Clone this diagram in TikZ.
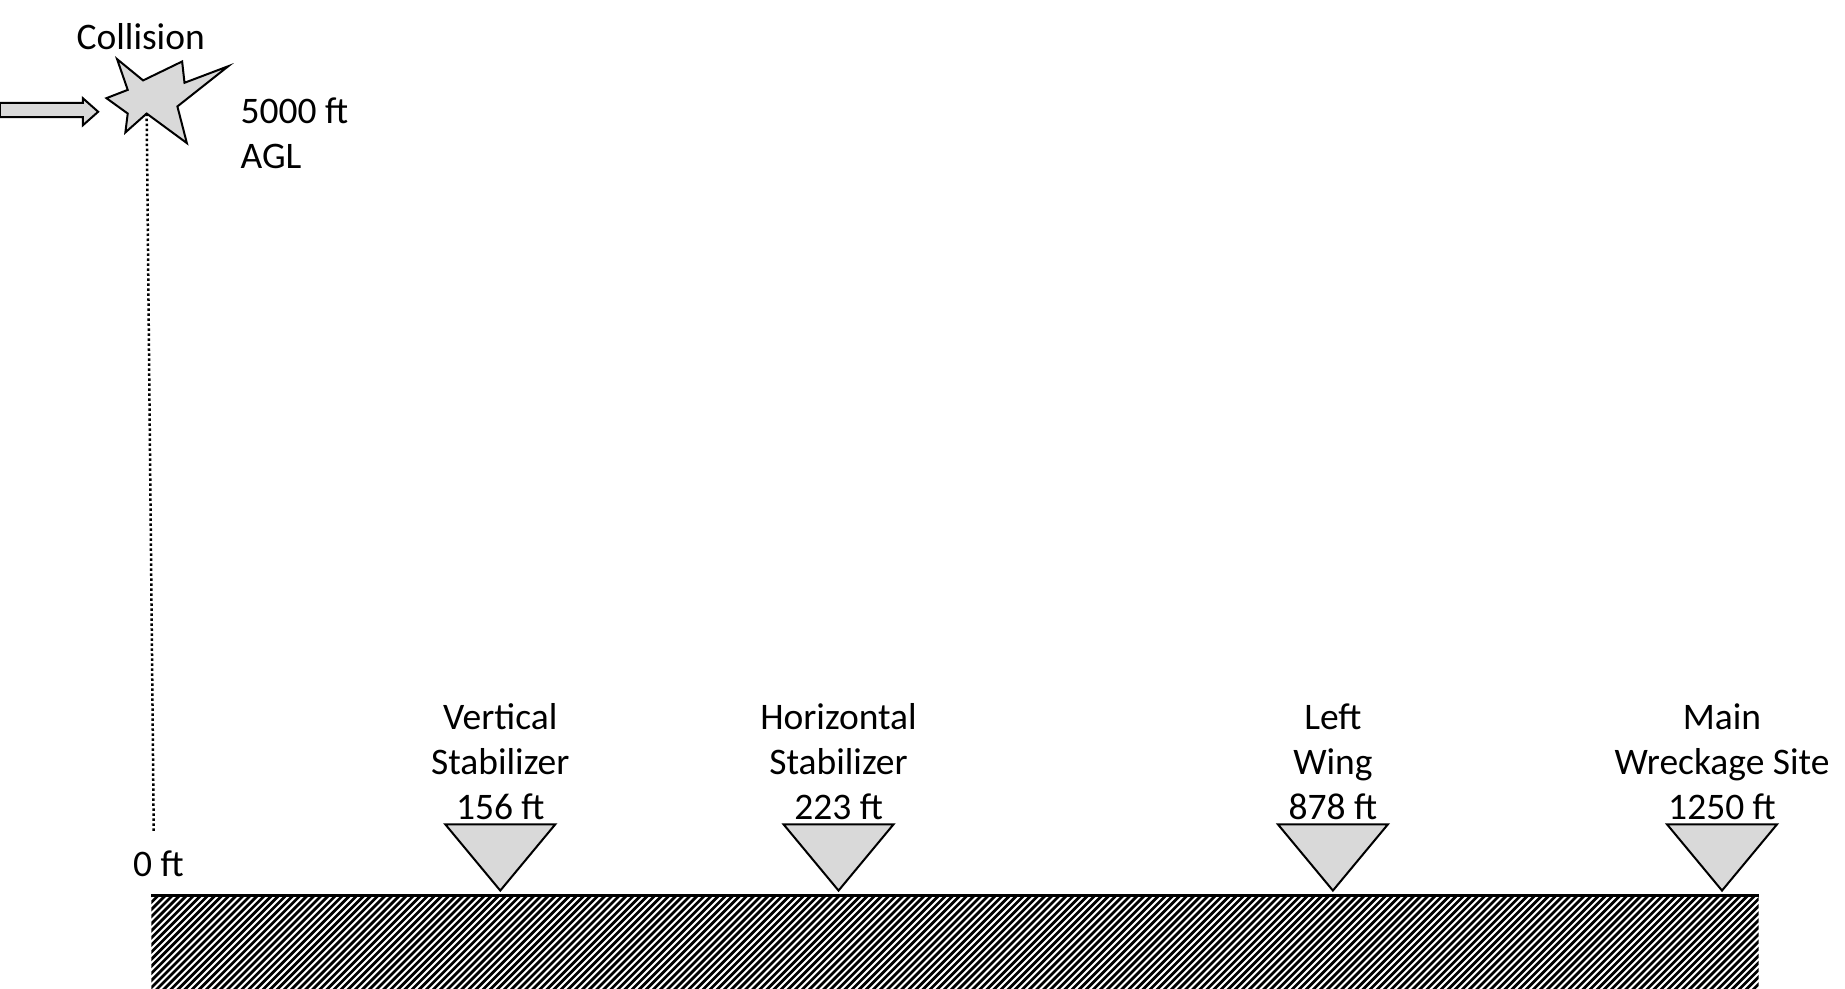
\documentclass[tikz,border=0pt]{standalone}
\usepackage{fontspec}
\setmainfont{Carlito}
\begin{document}
\begin{tikzpicture}[x=0.4732pt,y=-0.4732pt,
  lbl/.style={font=\fontsize{15}{18}\selectfont,align=center,inner sep=0pt},
  marker/.style={draw=black,fill=black!15,line width=0.8pt}]
\useasboundingbox (0,0) rectangle (1560,836);
% arrow
\draw[marker] (0,87) -- (70,87) -- (70,83) -- (83,94.5) -- (70,106) -- (70,99) -- (0,99) -- cycle;
% star
\coordinate (hit) at (124,96);
\draw[marker] (99,50) -- (121,68) -- (154,52) -- (156,70) -- (193,56) -- (150,90) -- (158,121) -- (124,96) -- (106,112) -- (108,96) -- (90,83) -- (108,76) -- cycle;
\node[lbl] (col) at (119,31) {Collision};
\node[lbl,anchor=west,align=left] (agl) at (203,113) {5000 ft\\AGL};
\coordinate (gnd0) at (130,703);
\draw[densely dotted,line width=1pt] (hit) -- (gnd0);
\node[lbl] (zero) at (134,730) {0 ft};
% ground
\begin{scope}
\clip (128,757) rectangle (1487,840);
\foreach \i in {0,...,250} {
  \draw[line width=1.1pt] (128+\i*6-90,847) -- (128+\i*6,757);
}
\end{scope}
\draw[line width=1pt] (128,757) -- (1487,757);
% markers
\foreach \n/\x/\a/\b/\c in {vs/423/Vertical/Stabilizer/156 ft, hs/709/Horizontal/Stabilizer/223 ft, lw/1127/Left/Wing/878 ft, mw/1456/Main/Wreckage Site/1250 ft} {
  \draw[marker] (\x-46.5,697) -- (\x+46.5,697) -- (\x,753) -- cycle;
  \node[lbl] (\n) at (\x,644) {\a\\\b\\\c};
}
\end{tikzpicture}
\end{document}
